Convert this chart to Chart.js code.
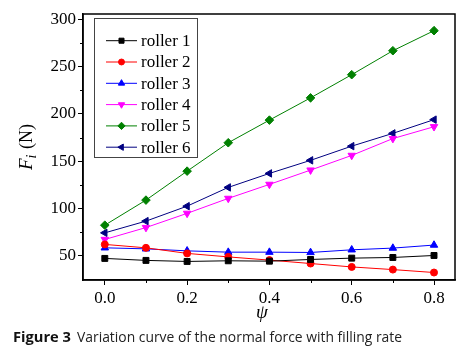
<!DOCTYPE html>
<html>
<head>
<meta charset="utf-8">
<script src="https://cdn.jsdelivr.net/npm/chart.js@4"></script>
<style>
  html, body { margin: 0; padding: 0; background: #fff; }
  #wrap { position: relative; width: 474px; height: 357px; overflow: hidden; }
  #c { position: absolute; left: 0; top: 0; }
  .cap { position: absolute; top: 328px; font-family: "Open Sans", sans-serif; font-size: 14px; line-height: 18px; color: #222; white-space: nowrap; transform-origin: 0 50%; }
  #capA { left: 13px; font-weight: bold; color: #111; }
  #capB { left: 77px; }
</style>
</head>
<body>
<div id="wrap">
  <canvas id="c" width="474" height="357"></canvas>
  <span class="cap" id="capA">Figure 3</span>
  <span class="cap" id="capB">Variation curve of the normal force with filling rate</span>
</div>
<script>
// ---- data ----
const psi = [0.0, 0.1, 0.2, 0.3, 0.4, 0.5, 0.6, 0.7, 0.8];
const roller1 = [47.4, 45.3, 44.2, 44.9, 44.5, 46.3, 47.7, 48.4, 50.5];
const roller2 = [62.2, 58.6, 52.7, 49.0, 45.6, 42.0, 38.4, 35.6, 32.5];
const roller3 = [58.6, 57.5, 55.4, 54.0, 54.0, 53.7, 56.5, 58.3, 61.5];
const roller4 = [67.4, 80.0, 95.0, 110.8, 125.6, 140.7, 156.2, 174.0, 186.5];
const roller5 = [82.5, 109.0, 139.6, 169.6, 193.5, 217.0, 241.5, 266.8, 288.0];
const roller6 = [74.4, 86.8, 102.6, 122.4, 137.2, 151.0, 166.0, 179.5, 194.0];
const seriesNames = ["roller 1", "roller 2", "roller 3", "roller 4", "roller 5", "roller 6"];
const xTicks = [0.0, 0.2, 0.4, 0.6, 0.8];
const xMinorTicks = [0.1, 0.3, 0.5, 0.7];
const yTicks = [50, 100, 150, 200, 250, 300];
const yMinorTicks = [75, 125, 175, 225, 275];

const seriesValues = [roller1, roller2, roller3, roller4, roller5, roller6];
const colors = ["#000000", "#ff0000", "#0000ff", "#ff00ff", "#008000", "#000080"];
const markers = [
  { style: "rect", rot: 0, r: 4.2 },
  { style: "circle", rot: 0, r: 3.5 },
  { style: "triangle", rot: 0, r: 4.3 },
  { style: "triangle", rot: 180, r: 4.3 },
  { style: "rectRot", rot: 0, r: 4.3 },
  { style: "triangle", rot: -90, r: 4.3 }
];

const SERIF = "'Liberation Serif', 'Times New Roman', serif";

const datasets = seriesValues.map((vals, i) => ({
  label: seriesNames[i],
  data: psi.map((x, j) => ({ x: x, y: vals[j] })),
  borderColor: colors[i],
  backgroundColor: colors[i],
  borderWidth: 1,
  pointStyle: markers[i].style,
  rotation: markers[i].rot,
  pointRadius: markers[i].r,
  pointBorderWidth: 1,
  tension: 0
}));

const decor = {
  id: "decor",
  afterDraw(chart) {
    const ctx = chart.ctx;
    const a = chart.chartArea;
    const xs = chart.scales.x, ys = chart.scales.y;
    ctx.save();
    // frame
    ctx.strokeStyle = "#000";
    ctx.lineWidth = 1.5;
    ctx.strokeRect(a.left, a.top, a.right - a.left, a.bottom - a.top);
    // minor ticks
    ctx.lineWidth = 1;
    ctx.beginPath();
    xMinorTicks.forEach(v => {
      const px = Math.round(xs.getPixelForValue(v)) + 0.5;
      ctx.moveTo(px, a.bottom); ctx.lineTo(px, a.bottom + 3);
    });
    yMinorTicks.forEach(v => {
      const py = Math.round(ys.getPixelForValue(v)) + 0.5;
      ctx.moveTo(a.left, py); ctx.lineTo(a.left - 3, py);
    });
    ctx.stroke();

    // legend
    const lx = 94, ly = 18, lw = 103, lh = 139;
    ctx.strokeStyle = "#444";
    ctx.lineWidth = 1;
    ctx.strokeRect(lx + 0.5, ly + 0.5, lw, lh);
    ctx.font = "17px " + SERIF;
    ctx.textBaseline = "middle";
    ctx.textAlign = "left";
    chart.data.datasets.forEach((ds, i) => {
      const y = 40.7 + i * 21.3;
      ctx.strokeStyle = ds.borderColor;
      ctx.lineWidth = 1;
      ctx.beginPath();
      ctx.moveTo(106, y); ctx.lineTo(137, y);
      ctx.stroke();
      ctx.fillStyle = ds.backgroundColor;
      Chart.helpers.drawPoint(ctx, {
        pointStyle: ds.pointStyle, rotation: ds.rotation,
        radius: ds.pointRadius * 0.85, borderWidth: 1
      }, 121.5, y);
      ctx.fillStyle = "#000";
      ctx.fillText(ds.label, 141, y + 1);
    });

    // y-axis title: F_i (N)
    ctx.translate(26, 147);
    ctx.rotate(-Math.PI / 2);
    ctx.fillStyle = "#000";
    ctx.textBaseline = "alphabetic";
    const fF = "italic 19px " + SERIF, fi = "italic 14px " + SERIF, fN = "18px " + SERIF;
    ctx.font = fF; const wF = ctx.measureText("F").width;
    ctx.font = fi; const wi = ctx.measureText("i").width;
    ctx.font = fN; const wN = ctx.measureText(" (N)").width;
    let x0 = -(wF + wi + 1 + wN) / 2;
    const base = 6;
    ctx.font = fF; ctx.fillText("F", x0, base); x0 += wF;
    ctx.font = fi; ctx.fillText("i", x0, base + 4); x0 += wi + 1;
    ctx.font = fN; ctx.fillText(" (N)", x0, base);
    ctx.restore();

    // x-axis title
    ctx.save();
    ctx.font = "italic 19px " + SERIF;
    ctx.fillStyle = "#000";
    ctx.textAlign = "center";
    ctx.textBaseline = "middle";
    ctx.fillText("\u03C8", 262, 313);
    ctx.restore();
  }
};

new Chart(document.getElementById("c"), {
  type: "line",
  data: { datasets: datasets },
  options: {
    responsive: false,
    animation: false,
    events: [],
    layout: { padding: { left: 0, right: 19, top: 14, bottom: 37 } },
    plugins: { legend: { display: false }, tooltip: { enabled: false } },
    scales: {
      x: {
        type: "linear",
        min: -0.053,
        max: 0.851,
        afterBuildTicks: s => { s.ticks = xTicks.map(v => ({ value: v })); },
        afterFit: s => { s.height = 40; },
        ticks: {
          callback: v => Number(v).toFixed(1),
          font: { family: SERIF, size: 17 },
          color: "#000",
          padding: 3,
          maxRotation: 0,
          autoSkip: false
        },
        grid: { drawOnChartArea: false, drawTicks: true, tickLength: 5, tickColor: "#000", tickWidth: 1 },
        border: { display: true, color: "#000", width: 1.5 },
        title: { display: false }
      },
      y: {
        type: "linear",
        min: 24.6,
        max: 305.6,
        afterBuildTicks: s => { s.ticks = yTicks.map(v => ({ value: v })); },
        afterFit: s => { s.width = 83; },
        ticks: {
          font: { family: SERIF, size: 17 },
          color: "#000",
          padding: 2,
          autoSkip: false
        },
        grid: { drawOnChartArea: false, drawTicks: true, tickLength: 5, tickColor: "#000", tickWidth: 1 },
        border: { display: true, color: "#000", width: 1.5 },
        title: { display: false }
      }
    }
  },
  plugins: [decor]
});

// caption width fit
const capB = document.getElementById("capB");
const wB = capB.getBoundingClientRect().width;
capB.style.transform = "scaleX(" + (325 / wB) + ")";
const capA = document.getElementById("capA");
const wA = capA.getBoundingClientRect().width;
capA.style.transform = "scaleX(" + (58 / wA) + ")";
</script>
</body>
</html>
